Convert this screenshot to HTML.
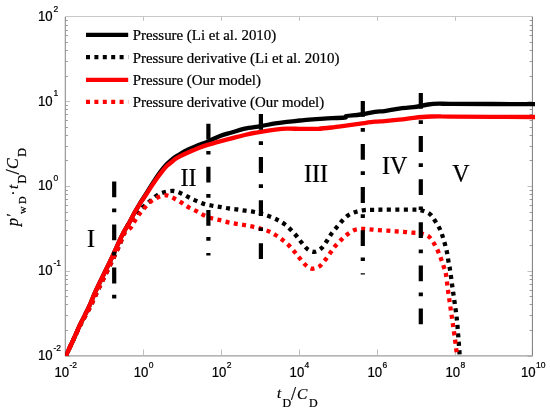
<!DOCTYPE html>
<html><head><meta charset="utf-8"><title>Pressure and pressure derivative</title>
<style>html,body{margin:0;padding:0;background:#fff;width:550px;height:412px;overflow:hidden}svg{display:block;filter:blur(0.35px)}text{stroke:#000;stroke-width:0.22px}</style>
</head><body>
<svg width="550" height="412" viewBox="0 0 550 412">
<rect width="550" height="412" fill="#fff"/>
<defs><clipPath id="c"><rect x="65.5" y="17" width="469.5" height="339"/></clipPath></defs>
<path d="M65.5 355v-5.5 M65.5 17v3.8 M143.5 355v-5.5 M143.5 17v3.8 M221.5 355v-5.5 M221.5 17v3.8 M299.5 355v-5.5 M299.5 17v3.8 M377.5 355v-5.5 M377.5 17v3.8 M455.5 355v-5.5 M455.5 17v3.8 M532.5 355v-5.5 M532.5 17v3.8 M65.5 356.5h4.5 M532 356.5h-4.5 M65.5 271.5h4.5 M532 271.5h-4.5 M65.5 186.5h4.5 M532 186.5h-4.5 M65.5 101.5h4.5 M532 101.5h-4.5 M65.5 16.5h4.5 M532 16.5h-4.5" stroke="#c0c0c0" stroke-width="1" fill="none"/>
<path d="M65.5 330.5h2.4 M532 330.5h-2.4 M65.5 315.5h2.4 M532 315.5h-2.4 M65.5 304.5h2.4 M532 304.5h-2.4 M65.5 296.5h2.4 M532 296.5h-2.4 M65.5 290.5h2.4 M532 290.5h-2.4 M65.5 284.5h2.4 M532 284.5h-2.4 M65.5 279.5h2.4 M532 279.5h-2.4 M65.5 275.5h2.4 M532 275.5h-2.4 M65.5 245.5h2.4 M532 245.5h-2.4 M65.5 230.5h2.4 M532 230.5h-2.4 M65.5 220.5h2.4 M532 220.5h-2.4 M65.5 212.5h2.4 M532 212.5h-2.4 M65.5 205.5h2.4 M532 205.5h-2.4 M65.5 199.5h2.4 M532 199.5h-2.4 M65.5 194.5h2.4 M532 194.5h-2.4 M65.5 190.5h2.4 M532 190.5h-2.4 M65.5 160.5h2.4 M532 160.5h-2.4 M65.5 146.5h2.4 M532 146.5h-2.4 M65.5 135.5h2.4 M532 135.5h-2.4 M65.5 127.5h2.4 M532 127.5h-2.4 M65.5 120.5h2.4 M532 120.5h-2.4 M65.5 114.5h2.4 M532 114.5h-2.4 M65.5 109.5h2.4 M532 109.5h-2.4 M65.5 105.5h2.4 M532 105.5h-2.4 M65.5 76.5h2.4 M532 76.5h-2.4 M65.5 61.5h2.4 M532 61.5h-2.4 M65.5 50.5h2.4 M532 50.5h-2.4 M65.5 42.5h2.4 M532 42.5h-2.4 M65.5 35.5h2.4 M532 35.5h-2.4 M65.5 30.5h2.4 M532 30.5h-2.4 M65.5 25.5h2.4 M532 25.5h-2.4 M65.5 20.5h2.4 M532 20.5h-2.4" stroke="#9a9a9a" stroke-width="1" fill="none"/>
<path d="M65.3 17V356" fill="none" stroke="#8e8e8e" stroke-width="1.1"/>
<path d="M532.4 17V356" fill="none" stroke="#7a7a7a" stroke-width="1"/>
<path d="M65 355.9H533" fill="none" stroke="#9c9c9c" stroke-width="1.3"/>
<path d="M65 16.5H533" fill="none" stroke="#c8c8c8" stroke-width="1.2"/>
<g clip-path="url(#c)" fill="none" stroke-linejoin="round">
<path d="M65.5 356.5 C66.72 353.92 70.32 346.42 72.8 341 C75.28 335.58 77.72 329.67 80.4 324 C83.08 318.33 86.27 312.67 88.9 307 C91.53 301.33 92.52 297.92 96.2 290 C99.88 282.08 107.28 267.33 111 259.5 C114.72 251.67 116.48 247.37 118.5 243 C120.52 238.63 121.4 236.52 123.1 233.3 C124.8 230.08 126.78 227.17 128.7 223.7 C130.62 220.23 132.67 215.98 134.6 212.5 C136.53 209.02 138.88 205.13 140.3 202.8 C141.72 200.47 141.6 200.87 143.1 198.5 C144.6 196.13 147.32 191.73 149.3 188.6 C151.28 185.47 153.12 182.53 155 179.7 C156.88 176.87 158.7 174.12 160.6 171.6 C162.5 169.08 164.47 166.63 166.4 164.6 C168.33 162.57 170.57 160.77 172.2 159.4 C173.83 158.03 173.83 157.9 176.2 156.4 C178.57 154.9 182.77 152.25 186.4 150.4 C190.03 148.55 194.37 146.8 198 145.3 C201.63 143.8 204.53 142.97 208.2 141.4 C211.87 139.83 216.1 137.38 220 135.9 C223.9 134.42 227.48 133.72 231.6 132.5 C235.72 131.28 239.85 129.67 244.7 128.6 C249.55 127.53 255.6 126.97 260.7 126.1 C265.8 125.23 270.93 124.1 275.3 123.4 C279.67 122.7 282.78 122.38 286.9 121.9 C291.02 121.42 296.23 120.88 300 120.5 C303.77 120.12 305.48 119.92 309.5 119.6 C313.52 119.28 318.27 118.95 324.1 118.6 C329.93 118.25 340.77 117.93 344.5 117.5 C348.23 117.07 343.83 116.5 346.5 116 C349.17 115.5 355.75 115.2 360.5 114.5 C365.25 113.8 371 112.37 375 111.8 C379 111.23 380.48 111.63 384.5 111.1 C388.52 110.57 394.25 109.25 399.1 108.6 C403.95 107.95 408.75 107.88 413.6 107.2 C418.45 106.52 423.83 105.08 428.2 104.5 C432.57 103.92 436.17 103.82 439.8 103.7 C443.43 103.58 433.97 103.72 450 103.8 C466.03 103.88 521.67 104.13 536 104.2" stroke="#000" stroke-width="4.3"/>
<path d="M65.5 356.5 C66.72 353.92 70.23 346.42 72.8 341 C75.37 335.58 78 329.67 80.9 324 C83.79 318.33 87.31 312.67 90.16 307 C93.01 301.33 94.23 297.92 98 290 C101.77 282.08 109.08 267.33 112.8 259.5 C116.52 251.67 118.52 247.17 120.3 243 C122.08 238.83 122.22 237.58 123.5 234.5 C124.78 231.42 126.42 227.42 128 224.5 C129.58 221.58 131.17 219.33 133 217 C134.83 214.67 137 212.45 139 210.5 C141 208.55 142.92 207.08 145 205.3 C147.08 203.52 149.42 201.52 151.5 199.8 C153.58 198.08 155.25 196.3 157.5 195 C159.75 193.7 162.33 192.67 165 192 C167.67 191.33 170.78 190.77 173.5 191 C176.22 191.23 178.75 192.35 181.3 193.4 C183.85 194.45 186.28 196.05 188.8 197.3 C191.32 198.55 193.78 199.77 196.4 200.9 C199.02 202.03 201.78 203.28 204.5 204.1 C207.22 204.92 209.97 205.3 212.7 205.8 C215.43 206.3 218.17 206.65 220.9 207.1 C223.63 207.55 226.37 208.1 229.1 208.5 C231.83 208.9 234.57 209.13 237.3 209.5 C240.03 209.87 242.63 210.28 245.5 210.7 C248.37 211.12 251.75 211.48 254.5 212 C257.25 212.52 259.13 212.92 262 213.8 C264.87 214.68 268.97 216.2 271.7 217.3 C274.43 218.4 276.15 219.18 278.4 220.4 C280.65 221.62 283.08 222.98 285.2 224.6 C287.32 226.22 289.15 228.12 291.1 230.1 C293.05 232.08 295.13 234.4 296.9 236.5 C298.67 238.6 299.92 240.58 301.7 242.7 C303.48 244.82 305.47 247.68 307.6 249.2 C309.73 250.72 312.18 251.97 314.5 251.8 C316.82 251.63 319.42 250.03 321.5 248.2 C323.58 246.37 325.28 243.28 327 240.8 C328.72 238.32 330.02 235.73 331.8 233.3 C333.58 230.87 335.92 228.32 337.7 226.2 C339.48 224.08 340.67 222.47 342.5 220.6 C344.33 218.73 346.38 216.48 348.7 215 C351.02 213.52 353.77 212.52 356.4 211.7 C359.03 210.88 361.63 210.42 364.5 210.1 C367.37 209.78 369.35 209.87 373.6 209.8 C377.85 209.73 383.05 209.72 390 209.7 C396.95 209.68 409.85 209.53 415.3 209.7 C420.75 209.87 420.17 209.88 422.7 210.7 C425.23 211.52 428.38 212.82 430.5 214.6 C432.62 216.38 433.83 218.98 435.4 221.4 C436.97 223.82 438.67 226.52 439.9 229.1 C441.13 231.68 441.93 234.3 442.8 236.9 C443.67 239.5 444.4 242.12 445.1 244.7 C445.8 247.28 446.45 249.65 447 252.4 C447.55 255.15 447.9 258.35 448.4 261.2 C448.9 264.05 449.35 265.3 450 269.5 C450.65 273.7 451.55 281.03 452.3 286.4 C453.05 291.77 453.77 296.43 454.5 301.7 C455.23 306.97 456.08 312.37 456.7 318 C457.32 323.63 457.73 329.67 458.2 335.5 C458.67 341.33 459.2 348.58 459.5 353 C459.8 357.42 459.92 360.5 460 362" stroke="#000" stroke-width="4.3" stroke-dasharray="4 4.4"/>
<path d="M65.5 356.5 C66.72 353.92 70.32 346.42 72.8 341 C75.28 335.58 77.72 329.67 80.4 324 C83.08 318.33 86.27 312.67 88.9 307 C91.53 301.33 92.52 297.92 96.2 290 C99.88 282.08 107.28 267.33 111 259.5 C114.72 251.67 116.48 247.37 118.5 243 C120.52 238.63 121.4 236.52 123.1 233.3 C124.8 230.08 126.78 227.17 128.7 223.7 C130.62 220.23 132.65 215.95 134.6 212.5 C136.55 209.05 138.95 205.28 140.4 203 C141.85 200.72 141.77 201.12 143.3 198.8 C144.83 196.48 147.58 192.17 149.6 189.1 C151.62 186.03 153.47 183.15 155.4 180.4 C157.33 177.65 159.27 175.03 161.2 172.6 C163.13 170.17 165.05 167.73 167 165.8 C168.95 163.87 171.37 162.23 172.9 161 C174.43 159.77 173.95 159.68 176.2 158.4 C178.45 157.12 182.77 155 186.4 153.3 C190.03 151.6 194.37 149.65 198 148.2 C201.63 146.75 204.53 145.75 208.2 144.6 C211.87 143.45 216.1 142.33 220 141.3 C223.9 140.27 227.48 139.45 231.6 138.4 C235.72 137.35 239.85 136.1 244.7 135 C249.55 133.9 255.6 132.7 260.7 131.8 C265.8 130.9 270.93 130.13 275.3 129.6 C279.67 129.07 282.78 128.72 286.9 128.6 C291.02 128.48 296.23 128.85 300 128.9 C303.77 128.95 306.45 128.92 309.5 128.9 C312.55 128.88 314.65 129.03 318.3 128.8 C321.95 128.57 326.8 128.03 331.4 127.5 C336 126.97 341.05 126.25 345.9 125.6 C350.75 124.95 355.65 124.25 360.5 123.6 C365.35 122.95 371 122.12 375 121.7 C379 121.28 380.48 121.43 384.5 121.1 C388.52 120.77 394.25 120.23 399.1 119.7 C403.95 119.17 409.72 118.35 413.6 117.9 C417.48 117.45 419.48 117.23 422.4 117 C425.32 116.77 428.2 116.62 431.1 116.5 C434 116.38 436.65 116.28 439.8 116.3 C442.95 116.32 433.97 116.48 450 116.6 C466.03 116.72 521.67 116.93 536 117" stroke="#f00" stroke-width="4.3"/>
<path d="M65.5 356.5 C66.72 353.92 70.23 346.42 72.8 341 C75.37 335.58 78 329.67 80.9 324 C83.79 318.33 87.31 312.67 90.16 307 C93.01 301.33 94.23 297.92 98 290 C101.77 282.08 109.08 267.33 112.8 259.5 C116.52 251.67 118.52 247.17 120.3 243 C122.08 238.83 121.73 237.12 123.5 234.5 C125.27 231.88 128.93 229.72 130.9 227.3 C132.87 224.88 133.72 222.42 135.3 220 C136.88 217.58 138.7 214.98 140.4 212.8 C142.1 210.62 143.68 208.85 145.5 206.9 C147.32 204.95 149.1 202.75 151.3 201.1 C153.5 199.45 156.13 197.95 158.7 197 C161.27 196.05 164.1 195.15 166.7 195.4 C169.3 195.65 171.82 197.28 174.3 198.5 C176.78 199.72 179.2 201.23 181.6 202.7 C184 204.17 186.23 205.88 188.7 207.3 C191.17 208.72 193.9 209.88 196.4 211.2 C198.9 212.52 201.12 214.02 203.7 215.2 C206.28 216.38 209.17 217.47 211.9 218.3 C214.63 219.13 217.37 219.53 220.1 220.2 C222.83 220.87 225.57 221.7 228.3 222.3 C231.03 222.9 233.78 223.33 236.5 223.8 C239.22 224.27 241.88 224.62 244.6 225.1 C247.32 225.58 250.07 226.07 252.8 226.7 C255.53 227.33 258.37 228.13 261 228.9 C263.63 229.67 266.18 230.28 268.6 231.3 C271.02 232.32 273.22 233.58 275.5 235 C277.78 236.42 280.03 238.03 282.3 239.8 C284.57 241.57 286.98 243.5 289.1 245.6 C291.22 247.7 293.22 250.28 295 252.4 C296.78 254.52 298.03 256.2 299.8 258.3 C301.57 260.4 303.65 263.27 305.6 265 C307.55 266.73 309.23 268.45 311.5 268.7 C313.77 268.95 316.95 267.92 319.2 266.5 C321.45 265.08 323.22 262.38 325 260.2 C326.78 258.02 328.27 255.67 329.9 253.4 C331.53 251.13 333 248.77 334.8 246.6 C336.6 244.43 338.75 242.33 340.7 240.4 C342.65 238.47 344.3 236.7 346.5 235 C348.7 233.3 351.3 231.23 353.9 230.2 C356.5 229.17 359.37 228.93 362.1 228.8 C364.83 228.67 367.57 229.17 370.3 229.4 C373.03 229.63 375.63 229.98 378.5 230.2 C381.37 230.42 384.65 230.52 387.5 230.7 C390.35 230.88 392.88 231.12 395.6 231.3 C398.32 231.48 401.07 231.58 403.8 231.8 C406.53 232.02 409.27 232.35 412 232.6 C414.73 232.85 417.45 232.68 420.2 233.3 C422.95 233.92 426.23 234.67 428.5 236.3 C430.77 237.93 432.27 240.73 433.8 243.1 C435.33 245.47 436.53 247.97 437.7 250.5 C438.87 253.03 439.83 255.72 440.8 258.3 C441.77 260.88 442.65 263.37 443.5 266 C444.35 268.63 445.17 270.15 445.9 274.1 C446.63 278.05 447.2 284.57 447.9 289.7 C448.6 294.83 449.37 299.82 450.1 304.9 C450.83 309.98 451.57 315.1 452.3 320.2 C453.03 325.3 453.77 330.03 454.5 335.5 C455.23 340.97 456.25 348.58 456.7 353 C457.15 357.42 457.12 360.5 457.2 362" stroke="#f00" stroke-width="4.3" stroke-dasharray="4 4.4"/>
</g>
<path d="M114.2 181.4V299.5" stroke="#000" stroke-width="4.2" stroke-dasharray="15.8 11.4 3.7 12.2" fill="none"/>
<path d="M208.4 123.7V255.5" stroke="#000" stroke-width="4.2" stroke-dasharray="15.8 11.4 3.7 12.2" fill="none"/>
<path d="M260.9 114V259.5" stroke="#000" stroke-width="4.2" stroke-dasharray="15.8 11.4 3.7 12.2" fill="none"/>
<path d="M362.8 100.9V274.5" stroke="#000" stroke-width="4.2" stroke-dasharray="15.8 11.4 3.7 12.2" fill="none"/>
<path d="M420.8 93V324.6" stroke="#000" stroke-width="4.2" stroke-dasharray="15.8 11.4 3.7 12.2" fill="none"/>
<g style="font-family:'Liberation Serif','Times New Roman',serif;font-size:24px" fill="#000">
<text transform="translate(86.9 247.4) scale(1 1.08)">I</text>
<text transform="translate(180.6 185.9) scale(1 1.08)">II</text>
<text transform="translate(303.9 181.9) scale(1 1.08)">III</text>
<text transform="translate(382.1 173.6) scale(1 1.08)">IV</text>
<text transform="translate(452.3 181.7) scale(1 1.08)">V</text>
</g>
<path d="M86 34.8H128.2" stroke="#000" stroke-width="4.3"/>
<text x="132.7" y="40.2" style="font-family:'Liberation Serif','Times New Roman',serif;font-size:14.9px" fill="#000">Pressure (Li et al. 2010)</text>
<path d="M86 57.2H128.2" stroke="#000" stroke-width="4.3" stroke-dasharray="4 4.4"/>
<text x="132.7" y="62.6" style="font-family:'Liberation Serif','Times New Roman',serif;font-size:14.9px" fill="#000">Pressure derivative (Li et al. 2010)</text>
<path d="M86 79.8H128.2" stroke="#f00" stroke-width="4.3"/>
<text x="132.7" y="85.2" style="font-family:'Liberation Serif','Times New Roman',serif;font-size:14.9px" fill="#000">Pressure (Our model)</text>
<path d="M86 101.9H128.2" stroke="#f00" stroke-width="4.3" stroke-dasharray="4 4.4"/>
<text x="132.7" y="107.3" style="font-family:'Liberation Serif','Times New Roman',serif;font-size:14.9px" fill="#000">Pressure derivative (Our model)</text>
<g style="font-family:'Liberation Sans',Arial,Helvetica,sans-serif" fill="#000">
<text transform="translate(37.9 359.9) scale(1 1.1)" style="font-size:13.2px">10</text>
<text transform="translate(53.4 350.5) scale(1 1.1)" style="font-size:8.5px">-2</text>
<text transform="translate(37.9 275.15) scale(1 1.1)" style="font-size:13.2px">10</text>
<text transform="translate(53.4 265.75) scale(1 1.1)" style="font-size:8.5px">-1</text>
<text transform="translate(37.9 190.4) scale(1 1.1)" style="font-size:13.2px">10</text>
<text transform="translate(53.4 181) scale(1 1.1)" style="font-size:8.5px">0</text>
<text transform="translate(37.9 105.65) scale(1 1.1)" style="font-size:13.2px">10</text>
<text transform="translate(53.4 96.25) scale(1 1.1)" style="font-size:8.5px">1</text>
<text transform="translate(37.9 20.9) scale(1 1.1)" style="font-size:13.2px">10</text>
<text transform="translate(53.4 11.5) scale(1 1.1)" style="font-size:8.5px">2</text>
<text transform="translate(65.7 376.5) scale(1 1.1)" style="font-size:13.2px" text-anchor="middle">10<tspan dx="0.3" dy="-7.82" style="font-size:8.5px">-2</tspan></text>
<text transform="translate(143.62 376.5) scale(1 1.1)" style="font-size:13.2px" text-anchor="middle">10<tspan dx="0.3" dy="-7.82" style="font-size:8.5px">0</tspan></text>
<text transform="translate(221.53 376.5) scale(1 1.1)" style="font-size:13.2px" text-anchor="middle">10<tspan dx="0.3" dy="-7.82" style="font-size:8.5px">2</tspan></text>
<text transform="translate(299.45 376.5) scale(1 1.1)" style="font-size:13.2px" text-anchor="middle">10<tspan dx="0.3" dy="-7.82" style="font-size:8.5px">4</tspan></text>
<text transform="translate(377.37 376.5) scale(1 1.1)" style="font-size:13.2px" text-anchor="middle">10<tspan dx="0.3" dy="-7.82" style="font-size:8.5px">6</tspan></text>
<text transform="translate(455.28 376.5) scale(1 1.1)" style="font-size:13.2px" text-anchor="middle">10<tspan dx="0.3" dy="-7.82" style="font-size:8.5px">8</tspan></text>
<text transform="translate(533.2 376.5) scale(1 1.1)" style="font-size:13.2px" text-anchor="middle">10<tspan dx="0.3" dy="-7.82" style="font-size:8.5px">10</tspan></text>
</g>
<g style="font-family:'Liberation Serif','Times New Roman',serif" fill="#000"><text x="277" y="398.3" style="font-size:15px;font-style:italic">t</text><text x="282.4" y="407" style="font-size:12px">D</text><text x="291.1" y="399.6" style="font-size:18px">/</text><text x="297" y="398.9" style="font-size:15.5px;font-style:italic">C</text><text x="309.1" y="407" style="font-size:12px">D</text></g>
<g transform="rotate(-90)" style="font-family:'Liberation Serif','Times New Roman',serif" fill="#000"><text x="-226" y="18.3" style="font-size:16px;font-style:italic">p</text><text x="-216.6" y="17.4" style="font-size:15px">′</text><text x="-213.9" y="25.7" style="font-size:10.5px">w</text><text x="-204" y="25.7" style="font-size:10.5px">D</text><text x="-195.6" y="18.2" style="font-size:15px">·</text><text x="-189.1" y="18" style="font-size:15px;font-style:italic">t</text><text x="-183.6" y="25.8" style="font-size:12px">D</text><text x="-174.6" y="19.3" style="font-size:18.5px">/</text><text x="-169" y="18" style="font-size:16px;font-style:italic">C</text><text x="-156.8" y="25.8" style="font-size:12px">D</text></g>
</svg>
</body></html>
